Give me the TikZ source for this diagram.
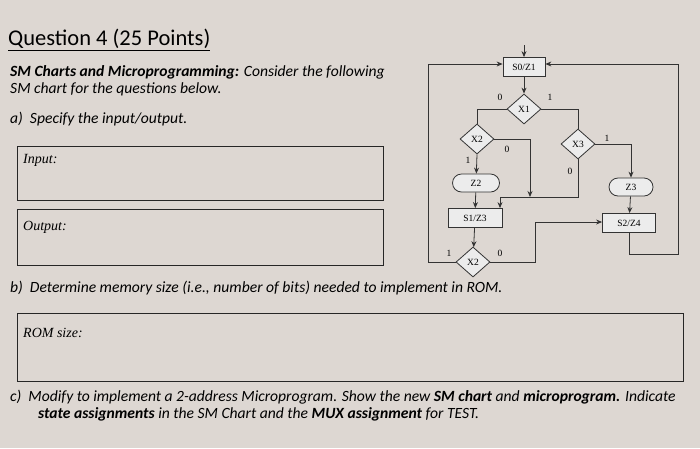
\documentclass[tikz,border=0pt]{standalone}
\usepackage{fontspec}
\setmainfont{Carlito}
\newfontfamily\serf{Liberation Serif}
\usetikzlibrary{shapes.geometric,shapes.misc,arrows.meta}
\begin{document}
\begin{tikzpicture}[x=1pt,y=-1pt,
  ln/.style={draw=black!80,line width=0.8pt},
  ar/.style={ln,-{Stealth[length=6pt,width=5pt]}},
  st/.style={draw=black!80,line width=0.8pt,fill=white!85!gray,font=\serf\fontsize{9.5}{10}\selectfont,inner sep=0pt},
  dec/.style={st,diamond,aspect=1.15,minimum width=34pt,minimum height=30pt},
  sbox/.style={st,rectangle,minimum height=19pt},
  obox/.style={st,rounded rectangle,minimum height=18pt},
  lab/.style={font=\serf\fontsize{9.5}{10}\selectfont},
  ansbox/.style={draw=black!85,line width=1pt},
  body/.style={font=\itshape\fontsize{15.6}{17}\selectfont},
  txt/.style={anchor=west,inner sep=0pt}]
\fill[gray!25!white!92!brown] (0,0) rectangle (700,448);
\useasboundingbox (0,0) rectangle (700,448);
% text
\node[txt,font=\fontsize{22.5}{24}\selectfont] (title) at (8,40) {\underline{Question 4 (25 Points)}};
\node[txt,body] (l1) at (10,72) {\bfseries SM Charts and Microprogramming: \mdseries Consider the following};
\node[txt,body] (l2) at (10,89) {SM chart for the questions below.};
\node[txt,body] (l3) at (10,119) {a)\ \ Specify the input/output.};
\draw[ansbox] (17,146) rectangle (383,200);
\node[txt,font=\serf\itshape\fontsize{14}{15}\selectfont] (inp) at (23,160) {Input:};
\draw[ansbox] (17,209) rectangle (383,265);
\node[txt,font=\serf\itshape\fontsize{14}{15}\selectfont] (outp) at (23,227) {Output:};
\node[txt,body] (l4) at (10,288) {b)\ \ Determine memory size (i.e., number of bits) needed to implement in ROM.};
\draw[ansbox] (17,313) rectangle (683,381);
\node[txt,font=\serf\itshape\fontsize{14}{15}\selectfont] (rom) at (23,333) {ROM size:};
\node[txt,body] (l5) at (10,397) {c)\ \ Modify to implement a 2-address Microprogram. Show the new \textbf{SM chart} and \textbf{microprogram.} Indicate};
\node[txt,body] (l6) at (38,414) {\textbf{state assignments} in the SM Chart and the \textbf{MUX assignment} for \textit{TEST.}};
% chart
\node[sbox,minimum width=42pt] (s0) at (524,67) {S0/Z1};
\node[dec] (x1) at (524,109) {X1};
\node[dec] (x2) at (477,139) {X2};
\node[dec] (x3) at (578,144) {X3};
\node[obox,minimum width=47pt] (z2) at (476,183) {Z2};
\node[obox,minimum width=44pt] (z3) at (631,187) {Z3};
\node[sbox,minimum width=54pt] (s1) at (475,218) {S1/Z3};
\node[sbox,minimum width=53pt] (s2) at (629,223) {S2/Z4};
\node[dec] (x2b) at (473,262) {X2};
\coordinate (top) at (524,45);
\coordinate (m1) at (530,197);
\draw[ar] (top) -- (s0);
\draw[ar] (s0) -- (x1);
\draw[ln] (x1.west) -| (x2.north);
\draw[ln] (x1.east) -| (x3.north);
\draw[ar] (x2.south) -- (z2);
\draw[ar] (x2.east) -| (m1);
\draw[ar] (x3.south) |- (500,197) -- (s1.north -| 500,0);
\draw[ar] (x3.east) -| (z3.north);
\draw[ar] (z2) -- (s1);
\draw[ar] (z3) -- (s2);
\draw[ar] (s1) -- (x2b);
\draw[ar] (x2b.west) -| (428,64) -- (s0.west |- 0,64);
\draw[ar] (x2b.east) -| (535,222) -- (s2.west |- 0,222);
\draw[ar] (s2.south) |- (678,254) |- (s0.east |- 0,64);
\node[lab] at (500,97) {0};
\node[lab] at (550,97) {1};
\node[lab] at (507,149) {0};
\node[lab] at (468,160) {1};
\node[lab] at (607,138) {1};
\node[lab] at (570,171) {0};
\node[lab] at (449,253) {1};
\node[lab] at (500,253) {0};
\end{tikzpicture}
\end{document}
